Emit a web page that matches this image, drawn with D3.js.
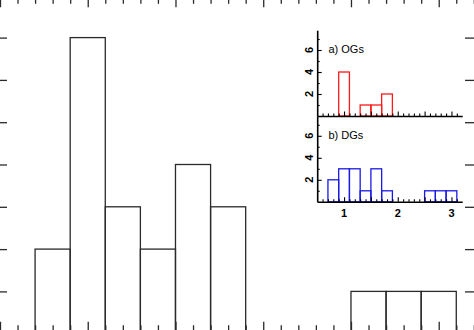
<!DOCTYPE html>
<html>
<head>
<meta charset="utf-8">
<script src="https://cdn.jsdelivr.net/npm/d3@7"></script>
<style>
  html, body { margin: 0; padding: 0; background: #fff; }
  svg { display: block; font-family: "Liberation Sans", Arial, sans-serif; }
</style>
</head>
<body>
<div id="vis"></div>
<script>
// datos (bins de ancho 0.2)
const BIN_WIDTH = 0.2;

const mainBins = [0.7, 0.9, 1.1, 1.3, 1.5, 1.7, 1.9, 2.1, 2.3, 2.5, 2.7, 2.9];
const mainCounts = [2, 7, 3, 2, 4, 3, 0, 0, 0, 1, 1, 1];

const ogBins = [0.9, 1.3, 1.5, 1.7];
const ogCounts = [4, 1, 1, 2];

const dgBins = [0.7, 0.9, 1.1, 1.3, 1.5, 1.7, 2.5, 2.7, 2.9];
const dgCounts = [2, 3, 3, 1, 3, 1, 1, 1, 1];

const insetXLabels = [1, 2, 3];
const insetYLabels = [2, 4, 6];
const panels = [
  { label: "a) OGs", bins: ogBins, counts: ogCounts, color: "#ff1a1a" },
  { label: "b) DGs", bins: dgBins, counts: dgCounts, color: "#1a1ae6" }
];

const WIDTH = 474;
const HEIGHT = 330;

const SVG = d3.select("#vis").append("svg").attr("width", WIDTH).attr("height", HEIGHT);

// ---------- grafico principal (recortado en los bordes) ----------
const FRAME = { left: -5, right: 479, top: -4.7, bottom: 333.7 };

const x = d3.scaleLinear().domain([0.4716, 3.2295]).range([FRAME.left, FRAME.right]);
const y = d3.scaleLinear().domain([0, 8]).range([FRAME.bottom, FRAME.top]);

const main = SVG.append("g");
const mainData = mainBins.map((b, i) => ({ x0: b, n: mainCounts[i] })).filter(d => d.n > 0);

main.selectAll(".bar").data(mainData).join("rect")
  .attr("class", "bar")
  .attr("x", d => x(d.x0))
  .attr("width", d => x(d.x0 + BIN_WIDTH) - x(d.x0))
  .attr("y", d => y(d.n))
  .attr("height", d => y(0) - y(d.n))
  .attr("fill", "none")
  .attr("stroke", "#2a2a2a")
  .attr("stroke-width", 1.3);

const minorX = d3.range(5, 33).map(v => v / 10).filter(v => v % 0.5 > 0.01 && v % 0.5 < 0.49);
const majorX = [0.5, 1, 1.5, 2, 2.5, 3];
const yTicks = d3.range(1, 8);

function tickStyle(g) {
  g.select(".domain").remove();
  g.selectAll("line").attr("stroke", "#2a2a2a").attr("stroke-width", 1.3);
  g.selectAll("text").remove();
}

// arriba
main.append("g").attr("transform", `translate(0,${FRAME.top})`)
  .call(d3.axisBottom(x).tickValues(minorX).tickSize(8.5).tickFormat("")).call(tickStyle);
main.append("g").attr("transform", `translate(0,${FRAME.top})`)
  .call(d3.axisBottom(x).tickValues(majorX).tickSize(12).tickFormat("")).call(tickStyle);
// abajo
main.append("g").attr("transform", `translate(0,${FRAME.bottom})`)
  .call(d3.axisTop(x).tickValues(minorX).tickSize(8.5).tickFormat("")).call(tickStyle);
main.append("g").attr("transform", `translate(0,${FRAME.bottom})`)
  .call(d3.axisTop(x).tickValues(majorX).tickSize(12).tickFormat("")).call(tickStyle);
// izquierda y derecha
main.append("g").attr("transform", `translate(${FRAME.left},0)`)
  .call(d3.axisRight(y).tickValues(yTicks).tickSize(12).tickFormat("")).call(tickStyle);
main.append("g").attr("transform", `translate(${FRAME.right},0)`)
  .call(d3.axisLeft(y).tickValues(yTicks).tickSize(14).tickFormat("")).call(tickStyle);

// ---------- recuadro (a) OGs y (b) DGs ----------
const xi = d3.scaleLinear().domain([0.5, 3.2]).range([317.2, 462.2]);
const PANEL_H = 85.8;
const panelBase = [116, 201.8];

const insetMinor = d3.range(6, 32).map(v => v / 10).filter(v => v % 0.5 > 0.01 && v % 0.5 < 0.49);
const insetMajor = [1, 1.5, 2, 2.5, 3];

panels.forEach((p, k) => {
  const base = panelBase[k];
  const yi = d3.scaleLinear().domain([0, 7.8]).range([base, base - PANEL_H]);
  const g = SVG.append("g").attr("class", "panel");

  const data = p.bins.map((b, i) => ({ x0: b, n: p.counts[i] }));
  g.selectAll(".ibar").data(data).join("rect")
    .attr("class", "ibar")
    .attr("x", d => xi(d.x0))
    .attr("width", d => xi(d.x0 + BIN_WIDTH) - xi(d.x0))
    .attr("y", d => yi(d.n))
    .attr("height", d => yi(0) - yi(d.n))
    .attr("fill", "none")
    .attr("stroke", p.color)
    .attr("stroke-width", 1.3);

  // eje x (ticks hacia adentro)
  const ax = g.append("g").attr("transform", `translate(0,${base})`);
  ax.call(d3.axisTop(xi).tickValues(insetMinor).tickSize(2.5).tickFormat("").tickSizeOuter(0));
  ax.select(".domain").attr("stroke", "#000").attr("stroke-width", 1.6);
  ax.selectAll("line").attr("stroke", "#000").attr("stroke-width", 1.1);
  g.append("g").attr("transform", `translate(0,${base})`)
    .call(d3.axisTop(xi).tickValues(insetMajor).tickSize(4.5).tickFormat(""))
    .call(s => s.select(".domain").remove())
    .selectAll("line").attr("stroke", "#000").attr("stroke-width", 1.1);

  // eje y
  const ay = g.append("g").attr("transform", `translate(${xi(0.5)},0)`);
  ay.call(d3.axisRight(yi).tickValues([1, 3, 5, 7]).tickSize(2.5).tickFormat("").tickSizeOuter(0));
  ay.select(".domain").attr("stroke", "#000").attr("stroke-width", 1.6);
  ay.selectAll("line").attr("stroke", "#000").attr("stroke-width", 1.1);
  g.append("g").attr("transform", `translate(${xi(0.5)},0)`)
    .call(d3.axisRight(yi).tickValues(insetYLabels).tickSize(4.5).tickFormat(""))
    .call(s => s.select(".domain").remove())
    .selectAll("line").attr("stroke", "#000").attr("stroke-width", 1.1);

  // etiquetas del eje y (rotadas)
  g.selectAll(".ylab").data(insetYLabels).join("text")
    .attr("class", "ylab")
    .attr("transform", d => `translate(${xi(0.5) - 4},${yi(d)}) rotate(-90)`)
    .attr("text-anchor", "middle")
    .attr("font-size", 11)
    .attr("font-weight", "bold")
    .attr("fill", "#000")
    .text(d => d);

  g.append("text")
    .attr("x", xi(0.71))
    .attr("y", base - PANEL_H + 23)
    .attr("font-size", 11)
    .attr("fill", "#000")
    .text(p.label);

  if (k === 1) {
    g.selectAll(".xlab").data(insetXLabels).join("text")
      .attr("class", "xlab")
      .attr("x", d => xi(d))
      .attr("y", base + 15)
      .attr("text-anchor", "middle")
      .attr("font-size", 11)
      .attr("font-weight", "bold")
      .attr("fill", "#000")
      .text(d => d);
  }
});
</script>
</body>
</html>
